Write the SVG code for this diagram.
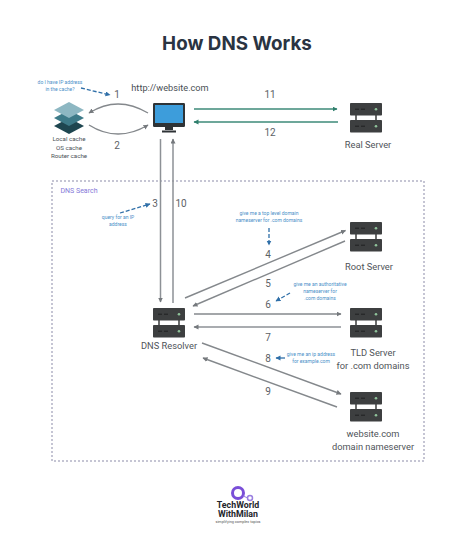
<svg xmlns="http://www.w3.org/2000/svg" xmlns:xlink="http://www.w3.org/1999/xlink" width="474" height="548" viewBox="0 0 474 548">
<style>
text{font-family:"Roboto","Liberation Sans",sans-serif;text-anchor:middle;fill:#4a4f55}
.t{font-family:"Inter","Liberation Sans",sans-serif;font-size:18.800px;font-weight:700;fill:#2a3442}
.n{font-size:10px;fill:#5c6166}
.l{font-size:9.300px;fill:#4f5459}
.c{font-size:6.200px}
.b{font-size:5px;fill:#4a8fc8}
.g{fill:none;stroke:#84888c;stroke-width:1.4}
.v{fill:none;stroke:#8d9196;stroke-width:1.5}
.e{fill:none;stroke:#3c8a78;stroke-width:1.5}
.d{fill:none;stroke:#2f6fa8;stroke-width:1.3;stroke-dasharray:4 2}
</style>
<defs>
<marker id="ag" markerWidth="6" markerHeight="6" refX="4.5" refY="2.5" orient="auto" markerUnits="userSpaceOnUse"><path d="M0 0L5 2.5L0 5Z" fill="#75797d"/></marker>
<marker id="ae" markerWidth="6" markerHeight="6" refX="4.5" refY="2.5" orient="auto" markerUnits="userSpaceOnUse"><path d="M0 0L5 2.5L0 5Z" fill="#2f7f6c"/></marker>
<marker id="ad" markerWidth="6" markerHeight="6" refX="4.5" refY="2.5" orient="auto" markerUnits="userSpaceOnUse"><path d="M0 0L5 2.5L0 5Z" fill="#2f6fa8"/></marker>
<g id="srv">
<path d="M6 12V20M26 12V20" stroke="#2e2f30" stroke-width="1.4"/>
<rect width="32" height="12.500" y="0" rx="0.8" fill="#3d3f40"/>
<rect width="32" height="12.500" y="17" rx="0.8" fill="#3d3f40"/>
<path d="M5 6.200H9M11 6.200H15M5 23.200H9M11 23.200H15" stroke="#1f2021" stroke-width="1"/>
<circle cx="26" cy="6.200" r="1.300" fill="#8fc39a"/><circle cx="26" cy="23.200" r="1.300" fill="#8fc39a"/>
</g>
</defs>
<rect width="474" height="548" fill="#ffffff"/>
<text class="t" x="237" y="49.500">How DNS Works</text>
<g id="search-box">
<rect x="52" y="181" width="372" height="280" fill="none" stroke="#8b8ba8" stroke-width="1" stroke-dasharray="2 2"/>
<text x="79" y="193" style="font-size:7px;fill:#8478d8">DNS Search</text>
</g>
<g id="connectors">
<path class="g" marker-end="url(#ag)" d="M148 113C128 101 108 101 89 113"/>
<path class="g" marker-end="url(#ag)" d="M89 125C108 137 128 137 148 125"/>
<path class="e" marker-end="url(#ae)" d="M194 109H337"/>
<path class="e" marker-end="url(#ae)" d="M338 122H194"/>
<path class="v" marker-end="url(#ag)" d="M160.500 139V302"/>
<path class="v" marker-end="url(#ag)" d="M173 303V139"/>
<path class="g" marker-end="url(#ag)" d="M185 298L345.500 230.500"/>
<path class="g" marker-end="url(#ag)" d="M345 241L193 306"/>
<path class="g" marker-end="url(#ag)" d="M194 314H341"/>
<path class="v" marker-end="url(#ag)" d="M341 327H194"/>
<path class="g" marker-end="url(#ag)" d="M202 343L341 394"/>
<path class="g" marker-end="url(#ag)" d="M337 407L203 358"/>
<path class="d" marker-end="url(#ad)" d="M81 88L110 95"/>
<path class="d" marker-end="url(#ad)" d="M120 213L150 204"/>
<path class="d" marker-end="url(#ad)" d="M269 228V245"/>
<path class="d" marker-end="url(#ad)" d="M290 293L276 301"/>
<path class="d" style="stroke-dasharray:none" marker-end="url(#ad)" d="M285 358H276"/>
</g>
<g id="labels">
<text class="n" x="117" y="98">1</text><text class="n" x="117" y="149">2</text>
<text class="n" x="270" y="98">11</text><text class="n" x="270" y="136">12</text>
<text class="n" x="155" y="207">3</text><text class="n" x="181" y="207">10</text>
<text class="n" x="268" y="258">4</text><text class="n" x="268" y="287">5</text>
<text class="n" x="268" y="308">6</text><text class="n" x="268" y="341">7</text>
<text class="n" x="268" y="362">8</text><text class="n" x="268" y="395">9</text>
<text class="b" x="60" y="84">do I have IP address</text><text class="b" x="60" y="91">in the cache?</text>
<text class="b" x="118" y="219">query for an IP</text><text class="b" x="118" y="226">address</text>
<text class="b" x="269" y="215">give me a top level domain</text><text class="b" x="269" y="222">nameserver for .com domains</text>
<text class="b" x="320" y="286">give me an authoritative</text><text class="b" x="320" y="293">nameserver for</text><text class="b" x="320" y="300">.com domains</text>
<text class="b" x="311" y="356">give me an ip address</text><text class="b" x="311" y="363">for example.com</text>
</g>
<g id="cache">
<path d="M69 118L84 126L69 134L54 126Z" fill="#1e4650"/>
<path d="M69 110L84 118L69 126L54 118Z" fill="#3d7a88"/>
<path d="M69 102L84 110L69 118L54 110Z" fill="#8db7c2"/>
<text class="c" x="69" y="141">Local cache</text><text class="c" x="69" y="149.500">OS cache</text><text class="c" x="69" y="158">Router cache</text>
</g>
<g id="client">
<rect x="153" y="103" width="32" height="24" rx="1.200" fill="#2e3336"/>
<rect x="155" y="105" width="28" height="18" fill="#3d9ddb"/>
<path d="M165 127H173V130H165Z" fill="#2e3336"/><rect x="162" y="130.500" width="14" height="2" fill="#2e3336"/>
<text x="170" y="91" style="font-size:9.200px">http://website.com</text>
</g>
<g id="real-server"><use href="#srv" x="350" y="103"/><text class="l" x="368" y="148">Real Server</text></g>
<g id="root-server"><use href="#srv" x="350" y="222"/><text class="l" x="369" y="270">Root Server</text></g>
<g id="tld-server"><use href="#srv" x="350" y="308"/><text class="l" x="373" y="356">TLD Server</text><text class="l" x="373" y="369">for .com domains</text></g>
<g id="website-server"><use href="#srv" x="350" y="392"/><text class="l" x="373" y="437">website.com</text><text class="l" x="373" y="450">domain nameserver</text></g>
<g id="dns-resolver"><use href="#srv" x="153" y="308"/><text class="l" x="169" y="349">DNS Resolver</text></g>
<g id="logo">
<circle cx="238" cy="493" r="5.500" fill="none" stroke="#7a4fd8" stroke-width="3"/>
<path d="M243 496L248 498" stroke="#9a7fe0" stroke-width="1"/>
<circle cx="250" cy="498" r="2.500" fill="none" stroke="#9a7fe0" stroke-width="1.500"/>
<text x="238" y="508" style="font-size:8.800px;font-weight:700;fill:#23252b">TechWorld</text>
<text x="238" y="517" style="font-size:8.800px;font-weight:700;fill:#23252b">WithMilan</text>
<text x="238" y="522.500" style="font-size:3.800px;fill:#555">simplifying complex topics</text>
</g>
</svg>
